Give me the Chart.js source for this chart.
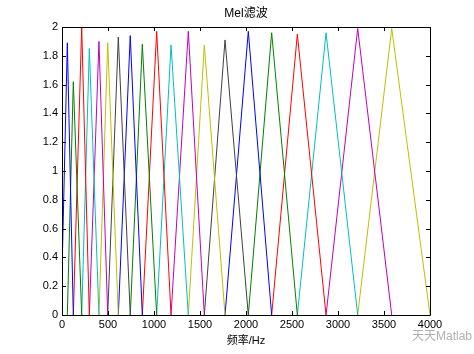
<!DOCTYPE html>
<html>
<head>
<meta charset="utf-8">
<script src="https://cdn.jsdelivr.net/npm/chart.js@4"></script>
<style>
  html, body { margin: 0; padding: 0; background: #fff; }
  #wrap { width: 474px; height: 354px; }
</style>
</head>
<body>
<div id="wrap"><canvas id="myChart" width="474" height="354"></canvas></div>
<script>
// filter peaks (Hz) and their heights
var centers = [58, 123, 214, 297, 402, 497, 612, 742, 873, 1029, 1185, 1373, 1547, 1772, 2025, 2279, 2558, 2870, 3214, 3584];
var heights = [1.89, 1.62, 2.0, 1.85, 1.9, 1.89, 1.93, 1.94, 1.88, 1.97, 1.875, 1.97, 1.875, 1.91, 1.97, 1.96, 1.95, 1.96, 1.99, 1.99];
var firstStart = 0.29;   // first (blue) filter starts above zero at 0 Hz
var xTicks = [0, 500, 1000, 1500, 2000, 2500, 3000, 3500, 4000];
var yTicks = [0, 0.2, 0.4, 0.6, 0.8, 1, 1.2, 1.4, 1.6, 1.8, 2];
var colors = ['rgb(0,0,255)', 'rgb(0,128,0)', 'rgb(255,0,0)', 'rgb(0,191,191)', 'rgb(191,0,191)', 'rgb(191,191,0)', 'rgb(64,64,64)'];

var FONT = '"Liberation Sans", Arial, "Noto Sans CJK SC", sans-serif';
Chart.defaults.font.family = FONT;
Chart.defaults.color = '#000';

var datasets = [];
for (var i = 0; i < centers.length; i++) {
    var left = i == 0 ? 0 : centers[i - 1];
    var right = i == centers.length - 1 ? 4000 : centers[i + 1];
    datasets.push({
        data: [{x: left, y: i == 0 ? firstStart : 0}, {x: centers[i], y: heights[i]}, {x: right, y: 0}],
        borderColor: colors[i % colors.length],
        borderWidth: 1,
        pointRadius: 0,
        fill: false,
        tension: 0
    });
}

// matlab style box with inward ticks, title over the axes, watermark
var boxPlugin = {
    id: 'box',
    afterDraw: function(chart) {
        var c = chart.ctx, a = chart.chartArea;
        var xs = chart.scales.x, ys = chart.scales.y;
        c.save();
        c.strokeStyle = '#000';
        c.lineWidth = 1;
        c.beginPath();
        c.rect(Math.round(a.left) + 0.5, Math.round(a.top) + 0.5, Math.round(a.right - a.left), Math.round(a.bottom - a.top));
        xTicks.forEach(function(v) {
            var px = Math.round(xs.getPixelForValue(v)) + 0.5;
            c.moveTo(px, a.bottom); c.lineTo(px, a.bottom - 4);
            c.moveTo(px, a.top); c.lineTo(px, a.top + 4);
        });
        yTicks.forEach(function(v) {
            var py = Math.round(ys.getPixelForValue(v)) + 0.5;
            c.moveTo(a.left, py); c.lineTo(a.left + 4, py);
            c.moveTo(a.right, py); c.lineTo(a.right - 4, py);
        });
        c.stroke();

        c.fillStyle = '#000';
        c.font = '12px ' + FONT;
        c.textAlign = 'center';
        c.textBaseline = 'middle';
        c.fillText('Mel滤波', (a.left + a.right) / 2, 14);

        c.fillStyle = '#b0b0b0';
        c.textAlign = 'right';
        c.fillText('天天Matlab', 472, 337);
        c.restore();
    }
};

var ctx = document.getElementById('myChart').getContext('2d');
var myChart = new Chart(ctx, {
    type: 'line',
    data: { datasets: datasets },
    options: {
        responsive: false,
        animation: false,
        layout: { padding: { left: 0, right: 44, top: 27, bottom: 0 } },
        plugins: {
            legend: { display: false },
            tooltip: { enabled: false },
            title: { display: false }
        },
        scales: {
            x: {
                type: 'linear',
                min: 0, max: 4000,
                afterBuildTicks: function(s) { s.ticks = xTicks.map(function(v) { return {value: v}; }); },
                ticks: { font: { size: 11 }, padding: 3, maxRotation: 0, callback: function(v) { return String(v); } },
                grid: { display: false, drawTicks: false },
                border: { display: false },
                title: { display: true, text: '频率/Hz', font: { size: 11 }, padding: { top: 0, bottom: 6 } },
                afterFit: function(s) { s.height = 39; }
            },
            y: {
                min: 0, max: 2,
                afterBuildTicks: function(s) { s.ticks = yTicks.map(function(v) { return {value: v}; }); },
                ticks: { font: { size: 11 }, padding: 4, callback: function(v) { return String(v); } },
                grid: { display: false, drawTicks: false },
                border: { display: false },
                afterFit: function(s) { s.width = 62; }
            }
        }
    },
    plugins: [boxPlugin]
});
</script>
</body>
</html>
